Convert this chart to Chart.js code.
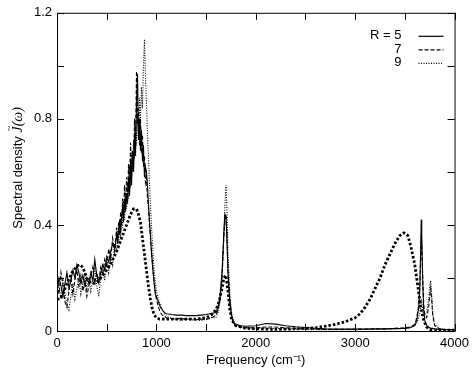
<!DOCTYPE html>
<html>
<head>
<meta charset="utf-8">
<script src="https://cdn.jsdelivr.net/npm/chart.js@4.4.1/dist/chart.umd.min.js"></script>
<style>
    html, body { margin: 0; padding: 0; background: #fff; }
    #wrap { width: 474px; height: 370px; }
</style>
</head>
<body>
<div id="wrap"><canvas id="spectrum" width="474" height="370"></canvas></div>
<script>
// frequency grid shared by the three simulation runs (cm^-1)
const freq = [
    0, 20, 40, 60, 80, 100, 120, 140, 160, 180, 200, 220, 240, 260, 280, 300, 320, 340, 360, 380,
    400, 420, 440, 460, 480, 500, 520, 540, 560, 580,
    600, 610, 620, 630, 640, 650, 660, 670, 680, 690,
    700, 710, 720, 730, 740, 750, 760, 770, 780, 790,
    800, 810, 820, 830, 840, 850, 860, 870, 880, 890,
    900, 910, 920, 930, 940, 950, 960, 970, 980, 990,
    1000, 1020, 1040, 1060, 1080, 1100, 1150, 1200, 1250, 1300, 1350, 1400, 1450, 1500, 1550,
    1600, 1620, 1640, 1660, 1670, 1680, 1690, 1700, 1710, 1720, 1740, 1760, 1780, 1800,
    1850, 1900, 2000, 2100, 2200, 2300, 2400, 2500, 2600, 2700, 2800, 2900, 3000, 3100, 3200, 3300, 3400, 3500, 3550, 3600,
    3620, 3640, 3650, 3660, 3665, 3670, 3680, 3690, 3700, 3720, 3740, 3750, 3760, 3770, 3780, 3800, 3850, 3900, 4000
];

const densityR5 = [
    0.15, 0.20, 0.17, 0.13, 0.18, 0.22, 0.16, 0.19, 0.23, 0.20, 0.25, 0.22, 0.18, 0.21, 0.17, 0.20, 0.18, 0.22, 0.19, 0.27,
    0.21, 0.18, 0.22, 0.25, 0.23, 0.28, 0.26, 0.30, 0.33, 0.31,
    0.36, 0.34, 0.38, 0.42, 0.37, 0.43, 0.47, 0.41, 0.50, 0.45,
    0.52, 0.48, 0.58, 0.51, 0.64, 0.55, 0.68, 0.60, 0.74, 0.66,
    0.85, 0.97, 0.72, 0.80, 0.68, 0.76, 0.64, 0.70, 0.58, 0.62,
    0.60, 0.55, 0.48, 0.42, 0.36, 0.30, 0.25, 0.21, 0.17, 0.14,
    0.13, 0.11, 0.09, 0.08, 0.07, 0.065, 0.062, 0.06, 0.06, 0.058, 0.058, 0.058, 0.06, 0.062, 0.066,
    0.07, 0.09, 0.13, 0.22, 0.30, 0.38, 0.44, 0.43, 0.34, 0.22, 0.10, 0.05, 0.03, 0.025,
    0.02, 0.018, 0.02, 0.028, 0.026, 0.02, 0.016, 0.013, 0.01, 0.008, 0.007, 0.007, 0.007, 0.007, 0.008, 0.008, 0.009, 0.01, 0.012, 0.02,
    0.04, 0.09, 0.16, 0.32, 0.42, 0.36, 0.18, 0.08, 0.04, 0.02, 0.015, 0.012, 0.01, 0.01, 0.01, 0.008, 0.006, 0.005, 0.005
];

const densityR7 = [
    0.20, 0.14, 0.22, 0.17, 0.11, 0.09, 0.15, 0.20, 0.14, 0.19, 0.23, 0.17, 0.21, 0.15, 0.19, 0.13, 0.17, 0.21, 0.24, 0.18,
    0.22, 0.19, 0.24, 0.21, 0.27, 0.24, 0.31, 0.27, 0.35, 0.30,
    0.39, 0.33, 0.41, 0.36, 0.45, 0.40, 0.50, 0.44, 0.55, 0.47,
    0.58, 0.50, 0.63, 0.55, 0.71, 0.58, 0.66, 0.60, 0.80, 0.70,
    0.98, 0.78, 0.84, 0.70, 0.80, 0.67, 0.74, 0.62, 0.66, 0.56,
    0.58, 0.50, 0.47, 0.40, 0.36, 0.30, 0.26, 0.21, 0.18, 0.14,
    0.12, 0.09, 0.07, 0.06, 0.055, 0.05, 0.047, 0.045, 0.048, 0.043, 0.046, 0.042, 0.045, 0.044, 0.048,
    0.06, 0.08, 0.12, 0.20, 0.28, 0.36, 0.43, 0.44, 0.36, 0.24, 0.11, 0.05, 0.03, 0.02,
    0.015, 0.012, 0.012, 0.015, 0.015, 0.012, 0.01, 0.008, 0.007, 0.006, 0.006, 0.006, 0.007, 0.007, 0.008, 0.008, 0.01, 0.012, 0.015, 0.025,
    0.05, 0.10, 0.16, 0.28, 0.36, 0.33, 0.20, 0.10, 0.06, 0.05, 0.09, 0.13, 0.16, 0.12, 0.06, 0.02, 0.008, 0.006, 0.005
];

const densityR9 = [
    0.22, 0.17, 0.12, 0.19, 0.14, 0.10, 0.08, 0.13, 0.18, 0.12, 0.16, 0.20, 0.14, 0.18, 0.22, 0.16, 0.20, 0.15, 0.19, 0.24,
    0.17, 0.13, 0.20, 0.23, 0.19, 0.26, 0.22, 0.29, 0.25, 0.33,
    0.30, 0.37, 0.33, 0.40, 0.35, 0.44, 0.39, 0.48, 0.42, 0.52,
    0.46, 0.56, 0.50, 0.62, 0.54, 0.68, 0.60, 0.72, 0.65, 0.78,
    0.70, 0.82, 0.74, 0.88, 0.80, 0.92, 0.84, 1.00, 1.10, 0.96,
    0.86, 0.74, 0.66, 0.56, 0.48, 0.40, 0.33, 0.27, 0.22, 0.18,
    0.15, 0.12, 0.10, 0.08, 0.065, 0.055, 0.048, 0.044, 0.04, 0.046, 0.041, 0.044, 0.039, 0.045, 0.05,
    0.05, 0.07, 0.11, 0.19, 0.28, 0.38, 0.48, 0.55, 0.46, 0.30, 0.13, 0.06, 0.03, 0.02,
    0.015, 0.012, 0.01, 0.01, 0.01, 0.008, 0.007, 0.006, 0.005, 0.005, 0.005, 0.005, 0.005, 0.006, 0.006, 0.007, 0.008, 0.01, 0.012, 0.02,
    0.03, 0.05, 0.07, 0.10, 0.12, 0.11, 0.08, 0.06, 0.06, 0.07, 0.12, 0.17, 0.19, 0.14, 0.07, 0.025, 0.01, 0.006, 0.005
];

// smooth reference curve drawn with heavy dots
const smoothFreq = [
    0, 30, 60, 100, 150, 200, 230, 260, 300, 340, 380, 420, 460, 500, 550, 600, 650, 700, 740, 770,
    800, 820, 840, 860, 880, 900, 920, 940, 960, 980, 1000, 1030, 1060, 1100, 1200, 1300, 1400, 1500, 1550, 1600,
    1630, 1660, 1680, 1700, 1720, 1740, 1760, 1800, 1900, 2000, 2200, 2400, 2600, 2700, 2800, 2900, 3000, 3050, 3100, 3150,
    3200, 3250, 3300, 3350, 3400, 3450, 3490, 3530, 3560, 3600, 3630, 3660, 3690, 3720, 3760, 3800, 4000
];
const smoothDensity = [
    0.12, 0.12, 0.14, 0.18, 0.22, 0.245, 0.25, 0.24, 0.20, 0.18, 0.18, 0.19, 0.21, 0.23, 0.26, 0.30, 0.35, 0.40, 0.44, 0.46,
    0.46, 0.44, 0.41, 0.35, 0.29, 0.23, 0.17, 0.12, 0.08, 0.06, 0.05, 0.045, 0.045, 0.045, 0.045, 0.045, 0.045, 0.05, 0.06, 0.08,
    0.11, 0.16, 0.20, 0.21, 0.15, 0.08, 0.04, 0.02, 0.01, 0.008, 0.006, 0.008, 0.012, 0.018, 0.025, 0.035, 0.05, 0.065, 0.09, 0.12,
    0.16, 0.20, 0.25, 0.29, 0.33, 0.36, 0.37, 0.36, 0.32, 0.25, 0.17, 0.09, 0.04, 0.015, 0.005, 0.003, 0.003
];

const seriesLabels = ['R = 5', '7', '9'];
const xTicks = [0, 500, 1000, 1500, 2000, 2500, 3000, 3500, 4000];
const xTickLabels = ['0', '1000', '2000', '3000', '4000'];
const yTicks = [0, 0.2, 0.4, 0.6, 0.8, 1.0, 1.2];
const yTickLabels = ['0', '0.4', '0.8', '1.2'];

const FONT = "'Liberation Sans', Arial, Helvetica, sans-serif";
const TICK_LEN = 7;
const lineStyles = [
    { dash: [], width: 1.1 },
    { dash: [4, 2], width: 1.1 },
    { dash: [1, 1.5], width: 1.1 }
];

function toPoints(xs, ys) {
    return xs.map((x, i) => ({ x: x, y: ys[i] }));
}

const frameTicks = {
    id: 'frameTicks',
    afterDraw(chart) {
        const { ctx, chartArea: a, scales: { x, y } } = chart;
        ctx.save();
        ctx.strokeStyle = '#000';
        ctx.lineWidth = 1;
        ctx.strokeRect(a.left + 0.5, a.top + 0.5, a.right - a.left, a.bottom - a.top);
        ctx.beginPath();
        xTicks.forEach((v) => {
            const px = Math.round(x.getPixelForValue(v)) + 0.5;
            ctx.moveTo(px, a.bottom); ctx.lineTo(px, a.bottom - TICK_LEN);
            ctx.moveTo(px, a.top); ctx.lineTo(px, a.top + TICK_LEN);
        });
        yTicks.forEach((v) => {
            const py = Math.round(y.getPixelForValue(v)) + 0.5;
            ctx.moveTo(a.left, py); ctx.lineTo(a.left + TICK_LEN, py);
            ctx.moveTo(a.right, py); ctx.lineTo(a.right - TICK_LEN, py);
        });
        ctx.stroke();

        // legend: label text, then line sample
        ctx.fillStyle = '#000';
        ctx.font = '13px ' + FONT;
        ctx.textAlign = 'right';
        ctx.textBaseline = 'middle';
        seriesLabels.forEach((label, i) => {
            const ly = a.top + 23 + i * 13.5;
            ctx.fillText(label, a.right - 53, ly);
            ctx.beginPath();
            ctx.setLineDash(lineStyles[i].dash);
            ctx.lineWidth = 1.2;
            ctx.moveTo(a.right - 36, ly + 0.5);
            ctx.lineTo(a.right - 11, ly + 0.5);
            ctx.stroke();
        });
        ctx.setLineDash([]);

        // x axis title
        ctx.textAlign = 'center';
        ctx.fillText('Frequency (cm\u207B\u00B9)', (a.left + a.right) / 2, 360);

        // y axis title with script J and tilde
        const first = 'Spectral density ';
        const sym = 'J';
        const rest = '(\u03C9)';
        ctx.translate(18, (a.top + a.bottom) / 2 - 4);
        ctx.rotate(-Math.PI / 2);
        ctx.textAlign = 'left';
        ctx.font = '13px ' + FONT;
        const w1 = ctx.measureText(first).width;
        ctx.font = 'italic 14px "Liberation Serif", "DejaVu Serif", serif';
        const w2 = ctx.measureText(sym).width;
        const w3 = ctx.measureText(rest).width;
        let cx = -(w1 + w2 + w3) / 2;
        ctx.font = '13px ' + FONT;
        ctx.fillText(first, cx, 0);
        cx += w1;
        ctx.font = 'italic 14px "Liberation Serif", "DejaVu Serif", serif';
        ctx.fillText(sym, cx, 0);
        ctx.font = '11px "Liberation Serif", serif';
        ctx.fillText('~', cx + 1, -9);
        ctx.font = 'italic 14px "Liberation Serif", "DejaVu Serif", serif';
        ctx.fillText(rest, cx + w2, 0);
        ctx.restore();
    }
};

const runData = [densityR5, densityR7, densityR9];
const datasets = runData.map((vals, i) => ({
    label: seriesLabels[i],
    data: toPoints(freq, vals),
    borderColor: '#000',
    borderWidth: lineStyles[i].width,
    borderDash: lineStyles[i].dash,
    pointRadius: 0,
    tension: 0,
    fill: false
}));
datasets.push({
    label: 'smooth',
    data: toPoints(smoothFreq, smoothDensity),
    borderColor: '#000',
    borderWidth: 2.8,
    borderDash: [2.5, 2],
    pointRadius: 0,
    tension: 0,
    fill: false
});

Chart.defaults.font.family = FONT;
Chart.defaults.font.size = 13;
Chart.defaults.color = '#000';

new Chart(document.getElementById('spectrum').getContext('2d'), {
    type: 'line',
    data: { datasets: datasets },
    options: {
        responsive: false,
        animation: false,
        devicePixelRatio: 1,
        layout: { padding: { top: 8, right: 15, left: 0, bottom: 0 } },
        plugins: { legend: { display: false }, tooltip: { enabled: false } },
        scales: {
            x: {
                type: 'linear',
                min: 0,
                max: 4000,
                afterFit: (scale) => { scale.height = 39; },
                grid: { display: false, drawTicks: false },
                border: { display: false },
                ticks: {
                    stepSize: 1000,
                    padding: 5,
                    maxRotation: 0,
                    callback: (v) => xTickLabels.includes(String(v)) ? String(v) : ''
                }
            },
            y: {
                min: 0,
                max: 1.2,
                afterFit: (scale) => { scale.width = 57; },
                grid: { display: false, drawTicks: false },
                border: { display: false },
                ticks: {
                    stepSize: 0.4,
                    padding: 5,
                    callback: (v) => {
                        const s = String(Math.round(v * 10) / 10);
                        return yTickLabels.includes(s) ? s : '';
                    }
                }
            }
        }
    },
    plugins: [frameTicks]
});
</script>
</body>
</html>
